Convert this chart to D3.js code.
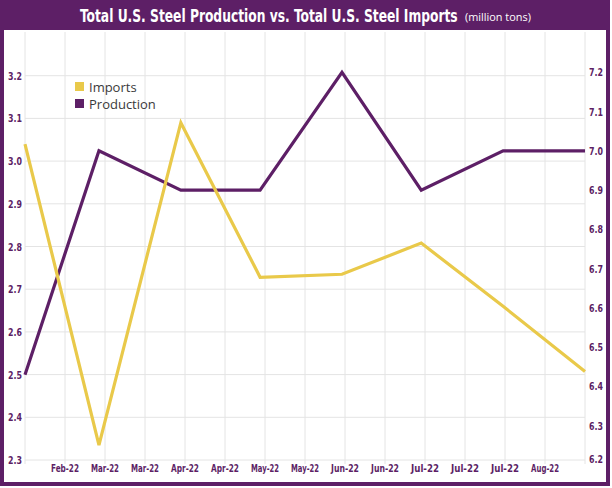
<!DOCTYPE html>
<html lang="en">
<head>
  <meta charset="UTF-8" />
  <title>Steel Production vs Imports</title>
  <script src="https://d3js.org/d3.v7.min.js"></script>
  <style>
    body { margin: 0; background: #fff; }
  </style>
</head>
<body>
  <svg id="chart" width="612" height="488"></svg>

  <script>
    // data
    const months = ["2022-01-31", "2022-02-28", "2022-03-31", "2022-04-30",
                    "2022-05-31", "2022-06-30", "2022-07-31", "2022-08-31"];
    const imports = [3.04, 2.335, 3.09, 2.728, 2.735, 2.808, 2.66, 2.507];
    const production = [6.43, 7.0, 6.9, 6.9, 7.2, 6.9, 7.0, 7.0];
    const xTickLabels = ["Feb-22", "Mar-22", "Mar-22", "Apr-22", "Apr-22", "May-22", "May-22",
                         "Jun-22", "Jun-22", "Jul-22", "Jul-22", "Jul-22", "Aug-22"];
    const leftTicks = [2.3, 2.4, 2.5, 2.6, 2.7, 2.8, 2.9, 3.0, 3.1, 3.2];
    const rightTicks = [6.2, 6.3, 6.4, 6.5, 6.6, 6.7, 6.8, 6.9, 7.0, 7.1, 7.2];

    const purple = "#5d1f66";
    const yellow = "#e9c94a";
    const axisFont = "'DejaVu Sans Condensed', 'DejaVu Sans', sans-serif";

    const W = 612, H = 488;
    const plot = { left: 25, right: 585, top: 32, bottom: 461 };

    const svg = d3.select("#chart");

    // frame + title bar
    svg.append("rect")
      .attr("x", 2).attr("y", 2).attr("width", W - 6).attr("height", H - 6)
      .attr("fill", "#fff").attr("stroke", purple).attr("stroke-width", 4);
    svg.append("rect")
      .attr("x", 0).attr("y", 0).attr("width", W - 2).attr("height", 30)
      .attr("fill", purple);

    // squeeze a text horizontally so it spans `width` px
    function squeezed(x, y, width, str, size, weight, family) {
      const g = svg.append("g");
      const t = g.append("text")
        .attr("fill", "#fff")
        .attr("font-size", size).attr("font-weight", weight)
        .style("font-family", family)
        .text(str);
      const len = t.node().getComputedTextLength();
      g.attr("transform", `translate(${x},${y}) scale(${width / len},1)`);
    }
    squeezed(80, 22, 378, "Total U.S. Steel Production vs. Total U.S. Steel Imports", 17, "bold", axisFont);
    squeezed(465, 21, 66, "(million tons)", 11, "normal", "'Open Sans', sans-serif");

    // scales
    const parse = d3.timeParse("%Y-%m-%d");
    const dates = months.map(parse);
    const x = d3.scaleTime().domain(d3.extent(dates)).range([plot.left, plot.right]);
    const xGrid = d3.scaleLinear().domain([0, 14]).range([plot.left, plot.right]);
    const yLeft = d3.scaleLinear().domain([2.3, 3.3]).range([460, 33]);
    const yRight = d3.scaleLinear().domain([6.2, 7.3]).range([465, 33]);

    // grid
    const grid = svg.append("g").attr("stroke", "#e4e4e4").attr("stroke-width", 1);
    grid.selectAll("line.v")
      .data(d3.range(0, 15))
      .join("line")
      .attr("class", "v")
      .attr("x1", d => xGrid(d)).attr("x2", d => xGrid(d))
      .attr("y1", plot.top).attr("y2", plot.bottom + 3);
    grid.selectAll("line.h")
      .data(leftTicks)
      .join("line")
      .attr("class", "h")
      .attr("x1", plot.left).attr("x2", plot.right)
      .attr("y1", d => yLeft(d)).attr("y2", d => yLeft(d));

    const labelStyle = sel => sel
      .attr("fill", purple)
      .attr("font-size", 11).attr("font-weight", "bold")
      .attr("lengthAdjust", "spacingAndGlyphs")
      .style("font-family", axisFont);

    // left axis labels
    svg.append("g")
      .selectAll("text")
      .data(leftTicks)
      .join("text")
      .attr("x", 8).attr("y", d => yLeft(d) + 4)
      .attr("textLength", 14)
      .call(labelStyle)
      .text(d => d.toFixed(1));

    // right axis labels
    svg.append("g")
      .selectAll("text")
      .data(rightTicks)
      .join("text")
      .attr("x", 589).attr("y", d => Math.min(yRight(d), 459) + 4)
      .attr("textLength", 14)
      .call(labelStyle)
      .text(d => d.toFixed(1));

    // x labels
    svg.append("g")
      .selectAll("text")
      .data(xTickLabels)
      .join("text")
      .attr("x", (d, i) => xGrid(i + 1) - 14)
      .attr("y", 472)
      .attr("textLength", 28)
      .call(labelStyle)
      .text(d => d);

    // lines
    const lineImports = d3.line().x((d, i) => x(dates[i])).y(d => yLeft(d));
    const lineProd = d3.line().x((d, i) => x(dates[i])).y(d => yRight(d));

    svg.append("path")
      .datum(production)
      .attr("d", lineProd)
      .attr("fill", "none")
      .attr("stroke", purple)
      .attr("stroke-width", 3.2)
      .attr("stroke-linejoin", "miter");

    svg.append("path")
      .datum(imports)
      .attr("d", lineImports)
      .attr("fill", "none")
      .attr("stroke", yellow)
      .attr("stroke-width", 3.2)
      .attr("stroke-linejoin", "miter");

    // legend
    const legendItems = [["Imports", yellow], ["Production", purple]];
    const legend = svg.append("g").attr("transform", "translate(75,87)");
    legendItems.forEach(([name, color], i) => {
      legend.append("rect")
        .attr("x", 0).attr("y", i * 17 - 5)
        .attr("width", 9).attr("height", 9)
        .attr("fill", color);
      legend.append("text")
        .attr("x", 14).attr("y", i * 17 + 5)
        .attr("fill", "#3a3a3a")
        .attr("font-size", 13)
        .style("font-family", "'Open Sans', sans-serif")
        .text(name);
    });
  </script>
</body>
</html>
